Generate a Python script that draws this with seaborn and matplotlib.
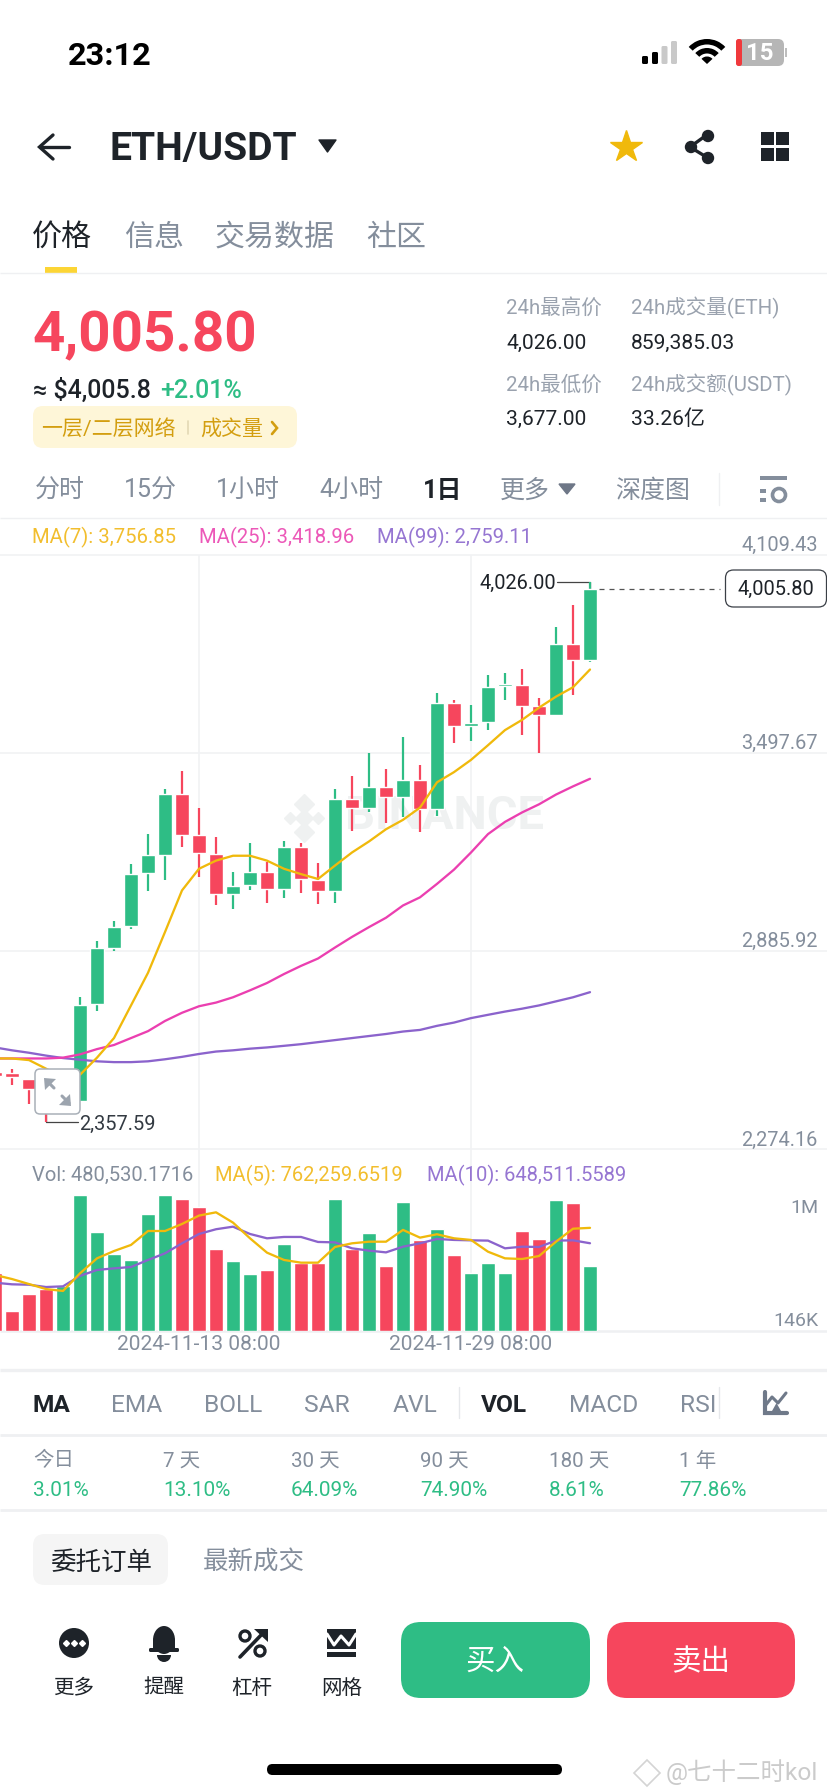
import numpy as np
import pandas as pd
import matplotlib
matplotlib.use("Agg")
import matplotlib.pyplot as plt
from matplotlib.patches import FancyBboxPatch, Rectangle, Circle, Wedge, Polygon, Ellipse
import seaborn as sns

# ---------- data ----------
day = list(range(-1, 35))
open_ = [2513.7, 2510, 2491, 2459.5, 2402.7, 2421.7, 2723.2, 2897.2, 2962.8, 3128, 3184.8, 3371.5, 3244.1, 3187.3,
         3061.2, 3091.5, 3131.8, 3077.6, 3207.5, 3106.6, 3072.5, 3355.1, 3328.6, 3393, 3361.4, 3414.4, 3326.1,
         3652.8, 3580.9, 3594.8, 3705.8, 3708.3, 3642.7, 3616.2, 3837, 3787.8]
high = [2518.8, 2522.6, 2491, 2459.5, 2440, 2743.3, 2916.1, 2980.5, 3155.8, 3247.9, 3386.6, 3442.1, 3329.9, 3239.1,
        3131.8, 3220.1, 3162.1, 3225.2, 3220.1, 3159.6, 3386.6, 3427, 3497.6, 3449.7, 3546.8, 3462.3, 3684.3,
        3661.6, 3647.8, 3738.6, 3747.4, 3760, 3669.2, 3887.4, 3956.8, 4026]
low = [2491, 2470.9, 2412.8, 2357.59, 2396.4, 2421.7, 2700.4, 2887.1, 2955.2, 3071.3, 3106.6, 3207.5, 3115.4, 3029.6,
       3015.8, 3073.8, 3035.9, 3049.8, 3066.2, 3030.9, 3033.4, 3258, 3314.8, 3282, 3300.9, 3253, 3303.4,
       3530.4, 3535.5, 3569.5, 3661.6, 3554.4, 3500.2, 3616.2, 3677, 3779]
close = [2501.1, 2497.3, 2459.5, 2402.7, 2421.7, 2720.6, 2894.7, 2961.5, 3125.5, 3182.3, 3371.5, 3245.4, 3189.8, 3061.2,
         3088.9, 3131.8, 3077.6, 3207.5, 3109.1, 3071.3, 3355.1, 3328.6, 3393, 3361.4, 3414.4, 3326.1, 3652.8,
         3580.9, 3592.3, 3703.2, 3712, 3645.2, 3616.2, 3837, 3787.8, 4005.8]
ma7 = [2554.1, 2554.1, 2549.1, 2522.6, 2496.1, 2503.7, 2556.6, 2617.2, 2718.1, 2819, 2945.1, 3073.8, 3140.7, 3165.9,
       3181, 3181, 3165.9, 3140.7, 3124.2, 3109.1, 3150.7, 3191.1, 3225.2, 3263, 3292, 3329.9, 3408.1, 3439.6,
       3477.4, 3522.8, 3569.5, 3601, 3638.9, 3673, 3702, 3756.85]
ma25 = [2554.1, 2554.1, 2554.1, 2554.1, 2556.6, 2566.7, 2583.1, 2595.8, 2617.2, 2638.6, 2670.1, 2695.4, 2715.6, 2726.9,
        2743.3, 2764.8, 2787.5, 2815.2, 2840.4, 2863.2, 2897.2, 2930, 2960.3, 2989.3, 3027.2, 3052.4, 3094, 3138.1,
        3191.1, 3247.9, 3285.7, 3314.8, 3340, 3370.2, 3395.5, 3418.96]
ma99 = [2588.2, 2579.3, 2571.8, 2563, 2555.4, 2550.3, 2545.3, 2542.8, 2542.8, 2545.3, 2551.6, 2559.1, 2568, 2575.5,
        2579.3, 2584.4, 2588.2, 2593.2, 2598.3, 2604.6, 2610.9, 2617.2, 2623.5, 2629.8, 2637.4, 2642.4, 2655, 2665.1,
        2678.9, 2689.1, 2699.1, 2708, 2718.1, 2730.7, 2743.3, 2759.11]
volume_k = [431, 145, 276, 308, 333, 1003, 732, 569, 527, 867, 1003, 973, 919, 606, 520, 421, 451, 641, 500, 503, 976,
            604, 722, 478, 951, 673, 754, 559, 426, 503, 429, 737, 678, 968, 949, 480.53]
vol_ma5_k = [414, 384, 347, 310, 296, 426, 537, 591, 636, 739, 739, 791, 853, 877, 801, 685, 579, 525, 505, 505, 621,
             648, 660, 660, 747, 690, 715, 685, 673, 586, 537, 532, 554, 660, 756, 762.26]
vol_ma10_k = [357, 345, 342, 325, 330, 407, 451, 463, 473, 525, 574, 648, 717, 752, 771, 717, 685, 695, 695, 658, 655,
              611, 594, 581, 623, 648, 680, 673, 670, 668, 611, 623, 621, 668, 670, 648.51]
price_levels = [4109.43, 3497.67, 2885.92, 2274.16]
price_labels = ["4,109.43", "3,497.67", "2,885.92", "2,274.16"]
date_days = [11, 27]
date_labels = ["2024-11-13 08:00", "2024-11-29 08:00"]
last_price = 4005.80
top_high = 4026.00
bottom_low = 2357.59
period_names = ["今日", "7 天", "30 天", "90 天", "180 天", "1 年"]
period_changes = ["3.01%", "13.10%", "64.09%", "74.90%", "8.61%", "77.86%"]

GREEN, RED = "#2EBD85", "#F6465D"
DARK, GRAY = "#1E2329", "#848E9C"
YEL, PINK, PUR = "#F0B90B", "#EB3FB0", "#8B63CC"
GRID = "#F1F2F4"

sns.set_theme(style="white")
plt.rcParams["font.family"] = ["Roboto", "Noto Sans CJK SC", "DejaVu Sans"]

W, H = 828, 1792
fig = plt.figure(figsize=(W / 100, H / 100), dpi=100, facecolor="white")


def rect(x0, y0, x1, y1):
    return [x0 / W, 1 - y1 / H, (x1 - x0) / W, (y1 - y0) / H]


def pixel_axes(z):
    a = fig.add_axes([0, 0, 1, 1], zorder=z)
    a.set_xlim(0, W)
    a.set_ylim(H, 0)
    a.axis("off")
    a.patch.set_alpha(0)
    return a


bg = pixel_axes(0)
fg = pixel_axes(5)

XLIM = (-12 / 17, (W - 12) / 17)

df = pd.DataFrame({"day": day, "open": open_, "high": high, "low": low, "close": close,
                   "ma7": ma7, "ma25": ma25, "ma99": ma99,
                   "vol": volume_k, "vma5": vol_ma5_k, "vma10": vol_ma10_k})
df["dir"] = np.where(df["close"] >= df["open"], "up", "down")
palette = {"up": GREEN, "down": RED}

# ---------- price panel ----------
ax = fig.add_axes(rect(0, 555.5, W, 1149), zorder=1)
ax.patch.set_alpha(0)
for p in price_levels:
    ax.axhline(p, color=GRID, lw=1.2, zorder=0, clip_on=False)
for d in date_days:
    ax.axvline(d, color=GRID, lw=1.2, zorder=0)
cols = df["dir"].map(palette)
ax.vlines(df["day"], df["low"], df["high"], colors=cols, lw=1.6, zorder=2)
ax.bar(df["day"], (df["close"] - df["open"]).abs(), bottom=df[["open", "close"]].min(axis=1),
       width=0.88, color=cols, zorder=3)
for col, c in [("ma99", PUR), ("ma25", PINK), ("ma7", YEL)]:
    sns.lineplot(data=df, x="day", y=col, color=c, lw=1.65, ax=ax, estimator=None, legend=False, zorder=4)
ax.plot([df["day"].iloc[-1] + 0.5, (720 - 12) / 17], [last_price, last_price], color="#555555",
        lw=0.9, dashes=(4, 4), zorder=4)
ax.plot([(557 - 12) / 17, 34, 34], [top_high, top_high, close[-1]], color="#444444", lw=0.9, zorder=1)
ax.plot([2, 2, (78 - 12) / 17], [low[3] + 25, bottom_low, bottom_low], color="#444444", lw=0.9, zorder=1)
ax.set_xlim(*XLIM)
ax.set_ylim(price_levels[-1], price_levels[0])
ax.axis("off")

# ---------- volume panel ----------
vx = fig.add_axes(rect(0, 1149, W, 1331), zorder=1)
vx.patch.set_alpha(0)
for d in date_days:
    vx.axvline(d, color=GRID, lw=1.2, zorder=0)
sns.barplot(data=df, x="day", y="vol", hue="dir", palette=palette, native_scale=True, dodge=False,
            width=0.87, saturation=1, legend=False, ax=vx, zorder=2)
sns.lineplot(data=df, x="day", y="vma10", color=PUR, lw=1.65, ax=vx, estimator=None, legend=False, zorder=3)
sns.lineplot(data=df, x="day", y="vma5", color=YEL, lw=1.65, ax=vx, estimator=None, legend=False, zorder=4)
vx.set_xlim(*XLIM)
vx.set_ylim(0, 1345)
vx.axis("off")


# ---------- text helper ----------
def T(x, y, s, px, color=DARK, weight="normal", ha="left", a=None, **kw):
    return (a or fg).text(x, y, s, fontsize=px / 1.389, color=color, fontweight=weight, ha=ha, va="center", **kw)


def rbox(a, x0, y0, x1, y1, r, fc, ec="none", lw=0, alpha=None, z=1):
    a.add_patch(FancyBboxPatch((x0 + r, y0 + r), x1 - x0 - 2 * r, y1 - y0 - 2 * r,
                               boxstyle=f"round,pad={r},rounding_size={r}", fc=fc, ec=ec, lw=lw, alpha=alpha, zorder=z))


def hline(y, lw=1.0, c="#EFF0F2"):
    bg.plot([0, W], [y, y], color=c, lw=lw, solid_capstyle="butt")


# ---------- status bar ----------
T(68, 56, "23:12", 32.5, "black", "bold")
for x, top, c in [(645, 56, "black"), (655, 52, "black"), (664.5, 46, "#C9C9C9"), (674, 41, "#C9C9C9")]:
    rbox(fg, x - 3, top, x + 3, 64, 1.5, c)
for r0, w in [(25, 5.5), (16, 5.5)]:
    fg.add_patch(Wedge((707, 64), r0, 223, 317, width=w, fc="black", ec="none"))
fg.add_patch(Wedge((707, 64), 7.5, 223, 317, fc="black", ec="none"))
rbox(fg, 736, 39, 784, 66, 6, "#B6B6B6")
rbox(fg, 736, 39, 742, 66, 2.5, "#F0393C", z=2)
T(759.5, 53, "15", 24, "white", "bold", "center")
fg.add_patch(Rectangle((785, 48), 2, 9, fc="#BDBDBD", ec="none"))

# ---------- header ----------
fg.plot([40, 69], [147, 147], color=DARK, lw=2.4, solid_capstyle="round")
fg.plot([53, 39.5, 53], [135, 147, 159], color=DARK, lw=2.4, solid_capstyle="round", solid_joinstyle="miter")
T(110, 149.5, "ETH/USDT", 39, DARK, "bold")
fg.add_patch(Polygon([(319, 140), (336, 140), (327.5, 152)], fc=DARK, ec=DARK, lw=1, joinstyle="round"))
fg.plot([626], [147], marker="*", ms=24, color=YEL, mec=YEL)
for a, b in [((690, 147), (708, 134)), ((690, 147), (708, 158))]:
    fg.plot([a[0], b[0]], [a[1], b[1]], color=DARK, lw=2.4)
for c in [(691, 147), (708, 136), (708, 158)]:
    fg.add_patch(Circle(c, 6.2, fc=DARK, ec="none"))
for x, y in [(761, 132), (776.5, 132), (761, 148.5), (776.5, 148.5)]:
    fg.add_patch(Rectangle((x, y), 13, 13, fc=DARK, ec="none"))

for x, s, c in [(32, "价格", DARK), (124, "信息", GRAY), (215, "交易数据", GRAY), (366, "社区", GRAY)]:
    T(x, 237.5, s, 30, c)
bg.add_patch(Rectangle((45, 267), 32, 6, fc="#FCD535", ec="none"))
hline(273.5)

# ---------- price block ----------
T(32, 336.5, "4,005.80", 56.5, RED, "bold")
T(33, 390.5, "≈ $4,005.8", 25, DARK, "medium")
T(160, 390.5, "+2.01%", 25, GREEN, "medium")
rbox(bg, 33, 406, 297, 448, 10, "#FEF6D8")
T(41, 429, "一层/二层网络", 21, "#D39E10")
bg.plot([188, 188], [421, 434], color="#E3D9B5", lw=1.2)
T(200, 429, "成交量", 21, "#D39E10")
fg.plot([272, 277, 272], [422, 428, 434], color="#D39E10", lw=1.9, solid_joinstyle="miter")
for x, y, s, c, px in [(506, 308, "24h最高价", "#9AA2AE", 20.5), (631, 308, "24h成交量(ETH)", "#9AA2AE", 20.5),
                       (506, 343, "4,026.00", DARK, 21), (631, 343, "859,385.03", DARK, 21),
                       (506, 385, "24h最低价", "#9AA2AE", 20.5), (631, 385, "24h成交额(USDT)", "#9AA2AE", 20.5),
                       (506, 419, "3,677.00", DARK, 21), (631, 419, "33.26亿", DARK, 21)]:
    T(x, y, s, px, c)

# ---------- timeframe row ----------
for x, s, c, w in [(35, "分时", GRAY, "normal"), (124, "15分", GRAY, "normal"), (216, "1小时", GRAY, "normal"),
                   (319, "4小时", GRAY, "normal"), (423, "1日", DARK, "bold"), (500, "更多", GRAY, "normal"),
                   (615, "深度图", GRAY, "normal")]:
    T(x, 491, s, 25, c, w)
fg.add_patch(Polygon([(559, 484), (575, 484), (567, 494)], fc="#6E7787", ec="#6E7787", lw=1))
bg.plot([719, 719], [473, 505], color="#EFF0F2", lw=1)
fg.add_patch(Rectangle((760, 476), 27, 4, fc=GRAY, ec="none"))
fg.add_patch(Rectangle((760, 489), 6, 4.5, fc=GRAY, ec="none"))
fg.add_patch(Rectangle((760, 498), 6, 4.5, fc=GRAY, ec="none"))
fg.add_patch(Circle((779, 495), 6.5, fc="white", ec=GRAY, lw=2.6))
hline(518.5)

# ---------- chart labels ----------
T(32, 537, "MA(7): 3,756.85", 20.3, "#F2BE2E")
T(199, 537, "MA(25): 3,418.96", 20.3, "#EC58B8")
T(377, 537, "MA(99): 2,759.11", 20.3, "#9676D2")
for lab, y in zip(price_labels, [545, 743, 941, 1140.5]):
    T(818, y, lab, 20, GRAY, ha="right")
rbox(fg, 725.5, 570, 826.5, 607, 8, "white", "#3A3F46", 0.9)
T(776, 589, "4,005.80", 20, DARK, ha="center", zorder=3)
T(556, 583.5, "4,026.00", 20, DARK, ha="right")
T(79, 1124, "2,357.59", 20, "#333A42")

# expand button
rbox(fg, 35, 1069, 80, 1114, 5, "white", "#A9B0B8", 1.1)
fg.plot([47, 54], [1081, 1088], color="#9CA4AE", lw=2.2, zorder=3)
fg.plot([62, 69], [1096, 1103], color="#9CA4AE", lw=2.2, zorder=3)
fg.add_patch(Polygon([(44, 1078), (56, 1079), (45, 1090)], fc="#9CA4AE", ec="none", zorder=3))
fg.add_patch(Polygon([(71, 1106), (59, 1105), (70, 1094)], fc="#9CA4AE", ec="none", zorder=3))

# watermark
T(345, 816, "BINANCE", 47, "#EFF1F1", "bold", a=bg)
for x, y, ms in [(304, 804, 10), (304, 818, 9), (304, 832, 10), (290, 818, 6), (318, 818, 6)]:
    bg.plot([x], [y], marker="D", ms=ms, color="#EFF1F1", mec="#EFF1F1")

# ---------- volume labels ----------
T(32, 1175, "Vol: 480,530.1716", 20.2, GRAY)
T(215, 1175, "MA(5): 762,259.6519", 20.2, "#F2BE2E")
T(427, 1175, "MA(10): 648,511.5589", 20.2, "#9676D2")
T(818, 1208, "1M", 19.5, GRAY, ha="right")
T(818, 1321, "146K", 19.5, GRAY, ha="right")
hline(1331.5, 1.8)
for d, lab in zip(date_days, date_labels):
    T(12 + 17 * d, 1345, lab, 21, GRAY, ha="center")
hline(1370.5, 2.4)

# ---------- indicator row ----------
for x, s, c, w in [(33, "MA", DARK, "bold"), (111, "EMA", GRAY, "normal"), (204, "BOLL", GRAY, "normal"),
                   (304, "SAR", GRAY, "normal"), (393, "AVL", GRAY, "normal"), (481, "VOL", DARK, "bold"),
                   (569, "MACD", GRAY, "normal"), (680, "RSI", GRAY, "normal")]:
    T(x, 1405, s, 24.5, c, w)
bg.plot([459, 459], [1387, 1418], color="#E6E8EB", lw=1)
bg.plot([719, 719], [1387, 1418], color="#E6E8EB", lw=1)
fg.plot([765, 765, 787], [1392, 1413, 1413], color="#6F7989", lw=3, solid_joinstyle="miter")
fg.plot([765, 772, 778, 786], [1406, 1397, 1403, 1393], color="#6F7989", lw=2.2)
fg.add_patch(Polygon([(772, 1411), (781, 1411), (776.5, 1403)], fc="#6F7989", ec="none"))
hline(1435, 2)
for x, n, p in zip([33, 163, 291, 420, 549, 679], period_names, period_changes):
    T(x, 1461, n, 20.5, GRAY)
    T(x, 1491, p, 20.8, GREEN)
hline(1510.5, 2)

# ---------- orders tab ----------
rbox(bg, 33, 1534, 168, 1585, 12, "#F5F5F5")
T(50, 1563, "委托订单", 25.5, DARK, "medium")
T(203, 1563, "最新成交", 25.5, GRAY, "medium")

# ---------- bottom icons ----------
fg.add_patch(Ellipse((74, 1643), 30, 30, fc=DARK, ec="none"))
for x in [66, 74, 82]:
    fg.plot([x], [1643], marker="D", ms=3.0, color="white", mec="white", zorder=3)
fg.add_patch(Ellipse((164, 1640), 22, 28, fc=DARK, ec="none"))
fg.add_patch(Rectangle((153, 1640), 22, 12, fc=DARK, ec="none"))
rbox(fg, 149, 1648, 179, 1652, 1.5, DARK)
fg.add_patch(Wedge((164, 1655), 7, 0, 180, fc=DARK, ec="none"))
fg.add_patch(Circle((245, 1636), 5, fc="none", ec=DARK, lw=2.4))
fg.add_patch(Circle((260, 1651), 5, fc="none", ec=DARK, lw=2.4))
fg.plot([240, 265], [1657, 1631], color=DARK, lw=2.6)
fg.add_patch(Polygon([(254, 1629), (268, 1629), (268, 1642)], fc=DARK, ec="none"))
fg.add_patch(Rectangle((327, 1629), 29, 20, fc=DARK, ec="none"))
fg.plot([327, 334, 341, 349, 356], [1634, 1645, 1636, 1645, 1634], color="white", lw=2.2, zorder=3)
fg.add_patch(Rectangle((327, 1652), 29, 5, fc=DARK, ec="none"))
for x, s in zip([74, 164, 252, 342], ["更多", "提醒", "杠杆", "网格"]):
    T(x, 1688, s, 20.5, DARK, ha="center")

rbox(bg, 401, 1622, 590, 1698, 20, GREEN)
rbox(bg, 607, 1622, 795, 1698, 20, RED)
T(495, 1662, "买入", 29.5, "white", "medium", "center")
T(701, 1662, "卖出", 29.5, "white", "medium", "center")
rbox(bg, 267, 1764, 562, 1775, 5.5, "black")
fg.plot([647], [1773], marker="D", ms=13, mfc="none", mec="#D4D4D4", mew=1.2)
T(666, 1772, "@七十二时kol", 24.5, "#CBCBCB")

fig.savefig("out.png", dpi=100, facecolor="white")
